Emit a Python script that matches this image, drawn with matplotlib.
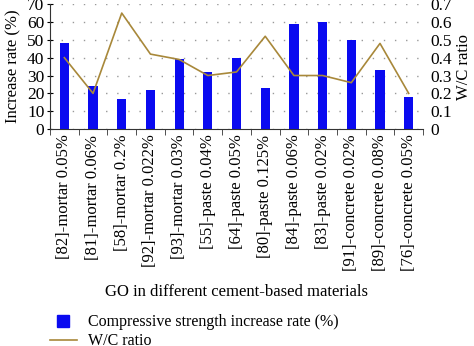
import matplotlib
matplotlib.use("Agg")
import matplotlib.pyplot as plt
from matplotlib.lines import Line2D
import numpy as np

plt.rcParams['font.family'] = ['Liberation Serif', 'DejaVu Serif']

labels = ["[82]-mortar 0.05%", "[81]-mortar 0.06%", "[58]-mortar 0.2%",
          "[92]-mortar 0.022%", "[93]-mortar 0.03%", "[55]-paste 0.04%",
          "[64]-paste 0.05%", "[80]-paste 0.125%", "[84]-paste 0.06%",
          "[83]-paste 0.02%", "[91]-concrete 0.02%", "[89]-concrete 0.08%",
          "[76]-concrete 0.05%"]
increase = [48, 24, 17, 22, 39, 32, 40, 23, 59, 60, 50, 33, 18]
wc_ratio = [0.40, 0.20, 0.65, 0.42, 0.39, 0.30, 0.32, 0.52, 0.30, 0.30, 0.26, 0.48, 0.20]

bar_col = "#0a0af0"
line_col = "#a8883a"

fig = plt.figure(figsize=(4.74, 3.46), dpi=100)
ax = fig.add_axes([0.1055, 0.627, 0.787, 0.361])
x = np.arange(len(labels))

ax.bar(x, increase, width=0.32, color=bar_col, zorder=2)
ax.set_xlim(-0.5, len(labels) - 0.5)
ax.set_ylim(0, 70)
ax.set_yticks(range(0, 71, 10))
ax.yaxis.grid(True, linestyle=(0, (1, 7)), color="#999999", linewidth=1.0, zorder=0)
ax.set_axisbelow(True)

ax.set_xticks(x)
ax.set_xticklabels(labels, rotation=90, fontsize=12)
ax.tick_params(axis='x', which='major', length=0, pad=4)
ax.set_xticks(np.arange(-0.5, len(labels), 1.0), minor=True)
ax.tick_params(axis='x', which='minor', length=4, direction='out', color='#333333')
ax.tick_params(axis='y', labelsize=12.5, length=4, direction='inout', pad=2)
for s in ['top', 'right']:
    ax.spines[s].set_visible(False)
ax.spines['left'].set_color('#333333')
ax.spines['bottom'].set_color('#333333')
ax.set_ylabel("Increase rate (%)", fontsize=12, labelpad=4)
ax.set_xlabel("GO in different cement-based materials", fontsize=12, labelpad=9)

ax2 = ax.twinx()
ax2.plot(x, wc_ratio, color=line_col, linewidth=1.2, zorder=3)
ax2.set_ylim(0, 0.7)
ax2.set_yticks(np.arange(0, 0.71, 0.1))
ax2.set_yticklabels(["0"] + ["%.1f" % v for v in np.arange(0.1, 0.71, 0.1)])
ax2.tick_params(axis='y', labelsize=12.5, length=0, pad=5)
for s in ['top', 'right', 'left', 'bottom']:
    ax2.spines[s].set_visible(False)
ax2.set_ylabel("W/C ratio", fontsize=12, labelpad=3)

handles = [Line2D([], [], marker='s', color=bar_col, linestyle='none', markersize=8),
           Line2D([], [], color=line_col, linewidth=1.2)]
fig.legend(handles, ["Compressive strength increase rate (%)", "W/C ratio"],
           loc='upper left', bbox_to_anchor=(0.088, 0.115), frameon=False,
           fontsize=11.5, handlelength=1.7, handletextpad=0.7, labelspacing=0.2,
           borderpad=0)

fig.savefig("out.png", dpi=100)
